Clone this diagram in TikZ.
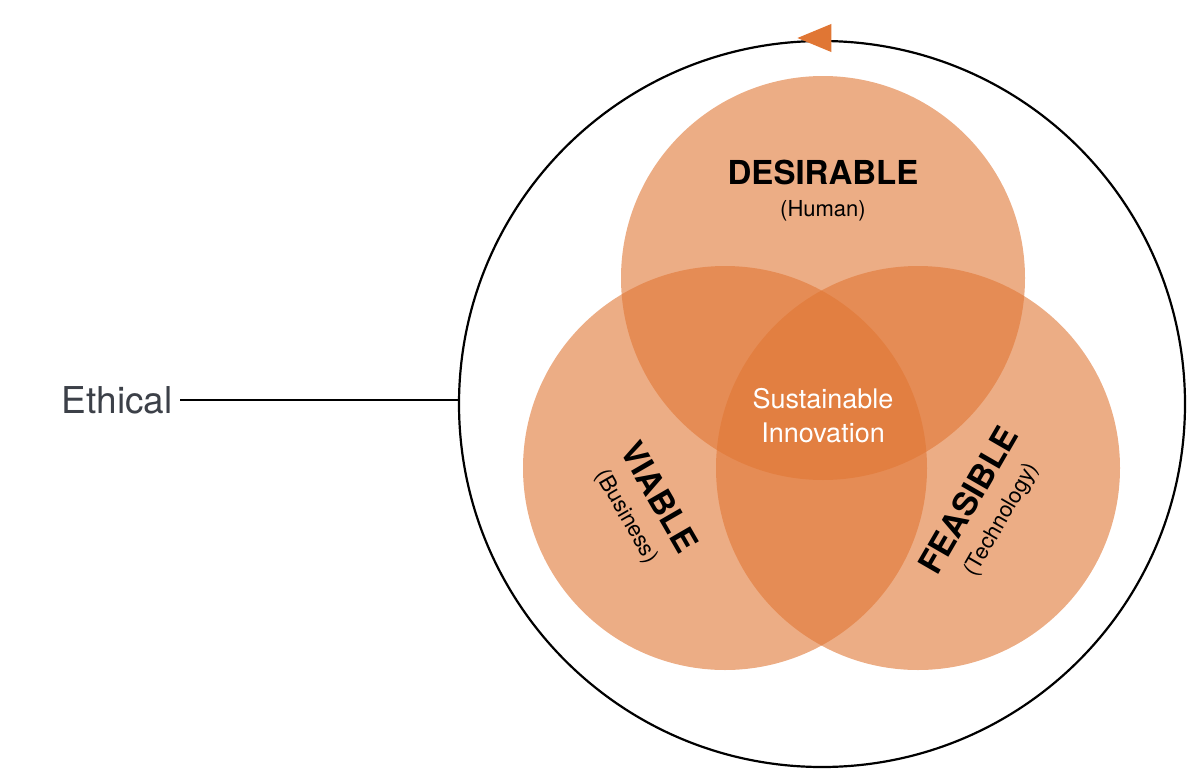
\documentclass[tikz,border=0pt]{standalone}
\usepackage{fontspec}
\setmainfont{TeX Gyre Heros}
\usetikzlibrary{shapes.geometric}
\definecolor{venn}{RGB}{224,118,52}
\definecolor{inkgray}{RGB}{60,64,72}

\begin{document}
\begin{tikzpicture}[x=1pt,y=-1pt,
  set/.style={circle,minimum size=404pt,fill=venn,fill opacity=0.6,inner sep=0pt},
  title/.style={font=\fontsize{33}{36}\selectfont\bfseries,text=black,inner sep=0pt},
  sub/.style={font=\fontsize{22}{25}\selectfont,text=black,inner sep=0pt}]

\useasboundingbox (0,0) rectangle (1200,782);

\node[set] (desirable) at (823,278) {};
\node[set] (viable) at (725,468) {};
\node[set] (feasible) at (918,468) {};

\node[circle,draw=black,line width=2.2pt,minimum size=726pt,inner sep=0pt] (ethic) at (822,404) {};
\node[isosceles triangle,shape border rotate=180,fill=venn,inner sep=0pt,minimum height=34pt,minimum width=26pt] (arrowtip) at (822,38) {};

\node[title] (dtitle) at (823,172) {DESIRABLE};
\node[sub] (dsub) at (823,211) {(Human)};
\node[font=\fontsize{27}{34}\selectfont,text=white,align=center] (core) at (823,416) {Sustainable\\Innovation};

% rotated labels
\node[title,rotate=-60] (vtitle) at (660,497) {VIABLE};
\node[sub,rotate=-60] (vsub) at (626,517) {(Business)};
\node[title,rotate=60] (ftitle) at (968,500) {FEASIBLE};
\node[sub,rotate=60] (fsub) at (1002,520) {(Technology)};

\node[font=\fontsize{37}{40}\selectfont,text=inkgray,anchor=east] (ethical) at (176,400) {Ethical};
\draw[line width=1.4pt,black] (ethical.east) ++(4,0) coordinate (lstart) -- (lstart -| ethic.west);

\end{tikzpicture}
\end{document}
